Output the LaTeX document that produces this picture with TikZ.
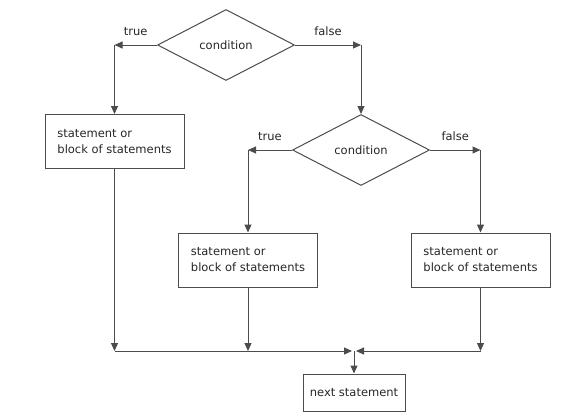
\documentclass[tikz,border=0pt]{standalone}
\usepackage{fontspec}
\setmainfont{DejaVu Sans}
\usetikzlibrary{shapes.geometric,arrows.meta,positioning}

\begin{document}
\begin{tikzpicture}[x=1pt, y=-1pt, font=\fontsize{11.5}{16}\selectfont,
	decision/.style={diamond, draw=black!70, line width=1pt, minimum width=137pt, minimum height=71pt, inner sep=0pt, text=black!85},
	block/.style={rectangle, draw=black!70, line width=1pt, minimum width=139pt, minimum height=54pt, align=left, text=black!85},
	lbl/.style={text=black!85, inner sep=1pt},
	arr/.style={-{Triangle[length=8pt,width=7pt]}, draw=black!70, line width=1pt}]
	\useasboundingbox (0,0) rectangle (588,418);
	\node[decision] (cond1) at (226,45) {condition};
	\node[decision] (cond2) at (361,150) {condition};
	\node[block] (stmt1) at (114.5,141.5) {statement or\\block of statements};
	\node[block] (stmt2) at (248,260) {statement or\\block of statements};
	\node[block] (stmt3) at (480.5,260) {statement or\\block of statements};
	\node[block, minimum width=102pt, minimum height=37pt] (next) at (354,392.5) {next statement};
	\coordinate (join) at (354,351);
	% branches of the first test
	\draw[arr] (cond1.west) -- node[lbl, above=8pt] {true} (stmt1.north |- cond1.west);
	\draw[arr] (stmt1.north |- cond1.west) -- (stmt1.north);
	\draw[arr] (cond1.east) -- node[lbl, above=8pt] {false} (cond2.north |- cond1.east);
	\draw[arr] (cond2.north |- cond1.east) -- (cond2.north);
	% branches of the second test
	\draw[arr] (cond2.west) -- node[lbl, above=8pt] {true} (stmt2.north |- cond2.west);
	\draw[arr] (stmt2.north |- cond2.west) -- (stmt2.north);
	\draw[arr] (cond2.east) -- node[lbl, above=8pt] {false} (stmt3.north |- cond2.east);
	\draw[arr] (stmt3.north |- cond2.east) -- (stmt3.north);
	% merge
	\draw[arr] (stmt1.south) -- (stmt1.south |- join);
	\draw[arr] (stmt2.south) -- (stmt2.south |- join);
	\draw[arr] (stmt3.south) -- (stmt3.south |- join);
	\draw[arr] (stmt1.south |- join) -- ([xshift=-2pt]join);
	\draw[arr] (stmt3.south |- join) -- ([xshift=2pt]join);
	\draw[arr] (join) -- (next.north);
\end{tikzpicture}
\end{document}
